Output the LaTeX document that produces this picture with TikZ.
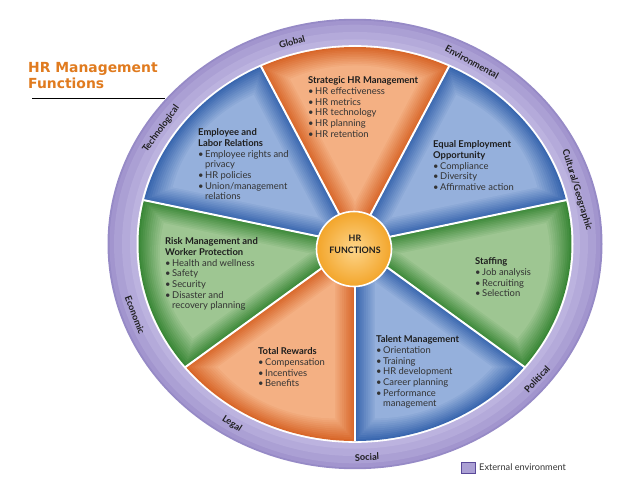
\documentclass[tikz,border=0pt]{standalone}
\usepackage{fontspec}
\newfontfamily\wedgefont{Lato}
\newfontfamily\titlefont{DejaVu Sans}
\definecolor{odark}{HTML}{D8672A}
\definecolor{olight}{HTML}{F4B083}
\definecolor{bdark}{HTML}{3A67AF}
\definecolor{blight}{HTML}{95B0DC}
\definecolor{gdark}{HTML}{3B8838}
\definecolor{glight}{HTML}{9EC692}
\definecolor{ring1}{HTML}{968AC6}
\definecolor{ring2}{HTML}{A295CE}
\definecolor{ring3}{HTML}{ABA0D4}
\definecolor{ring4}{HTML}{B4AADA}
\definecolor{ring5}{HTML}{BCB3DF}
\definecolor{ctrdark}{HTML}{F3A52A}
\definecolor{ctrlight}{HTML}{FDD58A}
\definecolor{txtdark}{HTML}{1E1E1E}
\definecolor{txtgray}{HTML}{333333}
\definecolor{titleorange}{HTML}{E07B1F}
\definecolor{legedge}{HTML}{5A4A99}
\newcommand{\hrwedge}[4]{%
  \pgfmathsetmacro{\wmid}{(#1+#2)/2}%
  \foreach \wi in {0,...,11}{%
    \pgfmathsetmacro{\wsc}{1-\wi*0.028}%
    \pgfmathtruncatemacro{\wpc}{\wi*100/11}%
    \begin{scope}[shift={(\wmid:150.6)}, scale=\wsc, shift={(\wmid+180:150.6)}]
      \fill[#4!\wpc!#3] (0,0) -- (#1:216.5) arc[start angle=#1, end angle=#2, radius=216.5] -- cycle;
    \end{scope}
  }%
}
\newcommand{\hd}[1]{{\bfseries\color{txtdark}#1}}
\newcommand{\bl}{\makebox[7pt][l]{•}}
\newcommand{\ct}{\hspace*{7pt}}
\tikzset{
  wtext/.style={anchor=north west, align=left, inner sep=0pt,
    font=\wedgefont\fontsize{9.4}{10.7}\selectfont, text=txtgray},
  ringlabel/.style={inner sep=0pt, font=\wedgefont\bfseries\fontsize{9.2}{10}\selectfont, text=txtdark},
}
\begin{document}
\begin{tikzpicture}[x=1pt,y=1pt]
\useasboundingbox (0,0) rectangle (638,-479);
% title
\node[name=title, anchor=north west, align=left, inner sep=0pt,
  font=\titlefont\bfseries\fontsize{13.9}{16}\selectfont, text=titleorange]
  at (28,-62) {HR Management\\Functions};
\coordinate (ulA) at (32,-98);
\coordinate (ulB) at (165,-98);
\draw[black, line width=0.8pt] (ulA) -- (ulB);
% wheel
\begin{scope}[shift={(355,-244)}, yscale=0.91]
  \fill[ring1] (0,0) circle (247.5);
  \fill[ring2] (0,0) circle (245.5);
  \fill[ring3] (0,0) circle (241);
  \fill[ring4] (0,0) circle (233);
  \fill[ring5] (0,0) circle (225);
  \fill[white] (0,0) circle (218.5);
  \hrwedge{64.29}{115.71}{odark}{olight}
  \hrwedge{115.71}{167.14}{bdark}{blight}
  \hrwedge{167.14}{218.57}{gdark}{glight}
  \hrwedge{218.57}{270}{odark}{olight}
  \hrwedge{270}{321.43}{bdark}{blight}
  \hrwedge{321.43}{372.86}{gdark}{glight}
  \hrwedge{12.86}{64.29}{bdark}{blight}
  \foreach \a in {64.29,115.71,167.14,218.57,270,321.43,12.86}
    \draw[white, line width=2pt] (0,0) -- (\a:217);
\end{scope}
% centre
\shade[inner color=ctrlight, outer color=ctrdark] (354,-249) circle (37.5);
\draw[white, line width=1.6pt] (354,-249) circle (37.5);
\node[name=center, align=center, inner sep=0pt,
  font=\wedgefont\bfseries\fontsize{8.9}{11.8}\selectfont, text=txtdark]
  at (355,-244) {HR\\FUNCTIONS};
% wedge texts
\node[wtext, name=strat] at (308,-76.5) {\hd{Strategic HR Management}\\\bl HR effectiveness\\\bl HR metrics\\\bl HR technology\\\bl HR planning\\\bl HR retention};
\node[wtext, name=empl] at (198,-128.5) {\hd{Employee and}\\\hd{Labor Relations}\\\bl Employee rights and\\\ct privacy\\\bl HR policies\\\bl Union/management\\\ct relations};
\node[wtext, name=eeo] at (433,-140.5) {\hd{Equal Employment}\\\hd{Opportunity}\\\bl Compliance\\\bl Diversity\\\bl Affirmative action};
\node[wtext, name=staff] at (475,-257.5) {\hd{Staffing}\\\bl Job analysis\\\bl Recruiting\\\bl Selection};
\node[wtext, name=talent] at (376,-335.5) {\hd{Talent Management}\\\bl Orientation\\\bl Training\\\bl HR development\\\bl Career planning\\\bl Performance\\\ct management};
\node[wtext, name=rewards] at (258,-347.5) {\hd{Total Rewards}\\\bl Compensation\\\bl Incentives\\\bl Benefits};
\node[wtext, name=risk] at (165,-237.5) {\hd{Risk Management and}\\\hd{Worker Protection}\\\bl Health and wellness\\\bl Safety\\\bl Security\\\bl Disaster and\\\ct recovery planning};
% ring labels
\node[ringlabel, name=lglobal, rotate=15] at (292,-42) {Global};
\node[ringlabel, name=lenv, rotate=-29] at (472,-62) {Environmental};
\node[ringlabel, name=lcult, rotate=-73] at (577,-190) {Cultural/Geographic};
\node[ringlabel, name=lpol, rotate=47] at (537,-379) {Political};
\node[ringlabel, name=lsoc, rotate=3] at (367,-457) {Social};
\node[ringlabel, name=llegal, rotate=-33] at (232,-424) {Legal};
\node[ringlabel, name=lecon, rotate=-69] at (135,-315) {Economic};
\node[ringlabel, name=ltech, rotate=54] at (161,-129) {Technological};
% legend
\node[name=legbox, draw=legedge, fill=ring3, line width=1pt, minimum width=14pt,
  minimum height=11pt, inner sep=0pt] at (468.5,-468) {};
\node[name=legtext, anchor=west, inner sep=0pt, font=\wedgefont\fontsize{9.2}{10}\selectfont,
  text=txtgray] at (479,-467) {External environment};
\end{tikzpicture}
\end{document}
